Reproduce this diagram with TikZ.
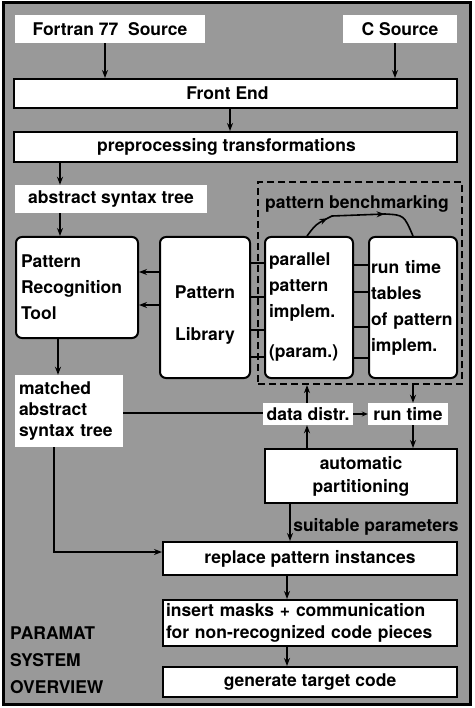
\documentclass[tikz,border=0pt]{standalone}
\usepackage{fontspec}
\setmainfont{TeX Gyre Heros}
\usetikzlibrary{arrows.meta,decorations.markings}
\definecolor{bggray}{gray}{0.6}
\begin{document}
\begin{tikzpicture}[x=1pt,y=-1pt,
  font=\fontsize{17.5}{26}\selectfont\bfseries,
  box/.style={draw=black, fill=white, line width=2pt, inner sep=0pt, align=center},
  rbox/.style={box, rounded corners=6pt},
  lbl/.style={fill=white, inner sep=0pt, align=center},
  arr/.style={-{Stealth[length=8pt,width=6pt]}, line width=1.6pt},
  smallarr/.style={-{Stealth[length=6pt,width=5pt]}, line width=1.6pt},
  conn/.style={line width=1.6pt},
  bench/.style={draw=black, line width=2.2pt, dash pattern=on 7pt off 4pt, inner sep=0pt},
  plain/.style={inner sep=0pt}]
\useasboundingbox (0,0) rectangle (474,708);
\draw[fill=bggray, line width=3pt] (3,3) rectangle (470,704);

\node[bench, minimum width=204pt, minimum height=202pt] (bx) at (360,283) {};
\node[plain] (pb) at (357,204) {pattern benchmarking};

\node[lbl, minimum width=190pt, minimum height=28pt] (f77) at (110,29) {Fortran 77\ \ Source};
\node[lbl, minimum width=114pt, minimum height=28pt] (csrc) at (400,29) {C Source};
\node[box, minimum width=443pt, minimum height=29pt] (fe) at (235.5,93.5) {Front End\kern16pt};
\node[box, minimum width=443pt, minimum height=30pt] (pre) at (235.5,147) {preprocessing transformations\kern18pt};
\node[lbl, minimum width=192pt, minimum height=28pt] (ast) at (111,199) {abstract syntax tree};

\node[rbox, minimum width=122pt, minimum height=101pt, text width=112pt, align=left] (prt) at (77,287.5) {Pattern\\Recognition\\Tool};
\node[rbox, minimum width=90pt, minimum height=141pt] (lib) at (205,307.5) {\mbox{}\\[2pt]Pattern\\[16pt]Library};
\node[rbox, minimum width=88pt, minimum height=141pt, text width=80pt, align=left] (par) at (309,307.5) {parallel\\pattern\\implem.\\[14pt](param.)};
\node[rbox, minimum width=88pt, minimum height=141pt, text width=84pt, align=left] (rt) at (413,307.5) {run time\\tables\\of pattern\\implem.};

\node[lbl, minimum width=108pt, minimum height=72pt, text width=100pt, align=left, font=\fontsize{17.5}{21}\selectfont\bfseries] (mast) at (69,411) {matched\\abstract\\syntax tree};
\node[lbl, minimum width=90pt, minimum height=22pt] (dd) at (308,414) {data distr.};
\node[lbl, minimum width=80pt, minimum height=22pt] (rtl) at (408,414) {run time};
\node[box, minimum width=192pt, minimum height=54pt, font=\fontsize{17.5}{23}\selectfont\bfseries] (ap) at (361,476) {automatic\\partitioning};
\node[plain] (sp) at (376,527) {suitable parameters};
\node[box, minimum width=294pt, minimum height=33pt] (rep) at (310,558.5) {replace pattern instances};
\node[box, minimum width=294pt, minimum height=46pt, text width=288pt, align=left, font=\fontsize{17.5}{22}\selectfont\bfseries] (ins) at (310,623) {insert masks + communication\\for non-recognized code pieces};
\node[box, minimum width=294pt, minimum height=30pt] (gen) at (310,682) {generate target code};
\node[plain, anchor=west, align=left, font=\fontsize{17.5}{27}\selectfont\bfseries] (pso) at (10,660) {PARAMAT\\SYSTEM\\OVERVIEW};

% arrows
\draw[arr] (f77.south -| 105,0) -- (fe.north -| 105,0);
\draw[arr] (csrc.south -| 395,0) -- (fe.north -| 395,0);
\draw[arr] (fe.south -| 230,0) -- (pre.north -| 230,0);
\draw[arr] (pre.south -| 60,0) -- (ast.north -| 60,0);
\draw[arr] (ast.south -| 60,0) -- (prt.north -| 60,0);
\draw[arr] (lib.west |- 0,272) -- (prt.east |- 0,272);
\draw[arr] (lib.west |- 0,305) -- (prt.east |- 0,305);
\draw[arr] (prt.south -| 58,0) -- (mast.north -| 58,0);
\draw[arr] (mast.south -| 54,0) |- (rep.west |- 0,552);
\draw[conn] (mast.east |- 0,413) -- (dd.west |- 0,413);
\draw[arr] (dd.north -| 307,0) -- (bx.south -| 307,0);
\draw[arr] (bx.south -| 413,0) -- (rtl.north -| 413,0);
\draw[arr] (ap.north -| 307,0) -- (dd.south -| 307,0);
\draw[arr] (rtl.south -| 413,0) -- (ap.north -| 413,0);
\draw[smallarr] (dd.east) -- (rtl.west);
\draw[arr] (ap.south -| 290,0) -- (rep.north -| 290,0);
\draw[arr] (rep.south -| 287,0) -- (ins.north -| 287,0);
\draw[arr] (ins.south -| 287,0) -- (gen.north -| 287,0);
\foreach \yy in {263,297,330,357} \draw[conn] (lib.east |- 0,\yy) -- (par.west |- 0,\yy);
\foreach \yy in {265,292,327,358} \draw[conn] (par.east |- 0,\yy) -- (rt.west |- 0,\yy);
\draw[conn, postaction={decorate}, decoration={markings,
   mark=at position 0.22 with {\arrow{Stealth[length=8pt,width=6pt]}},
   mark=at position 0.68 with {\arrow{Stealth[length=8pt,width=6pt]}}}]
  (par.north -| 307,0) .. controls (316,224) .. (332,216) -- (385,214) .. controls (404,215) .. (rt.north -| 413,0);
\end{tikzpicture}
\end{document}
